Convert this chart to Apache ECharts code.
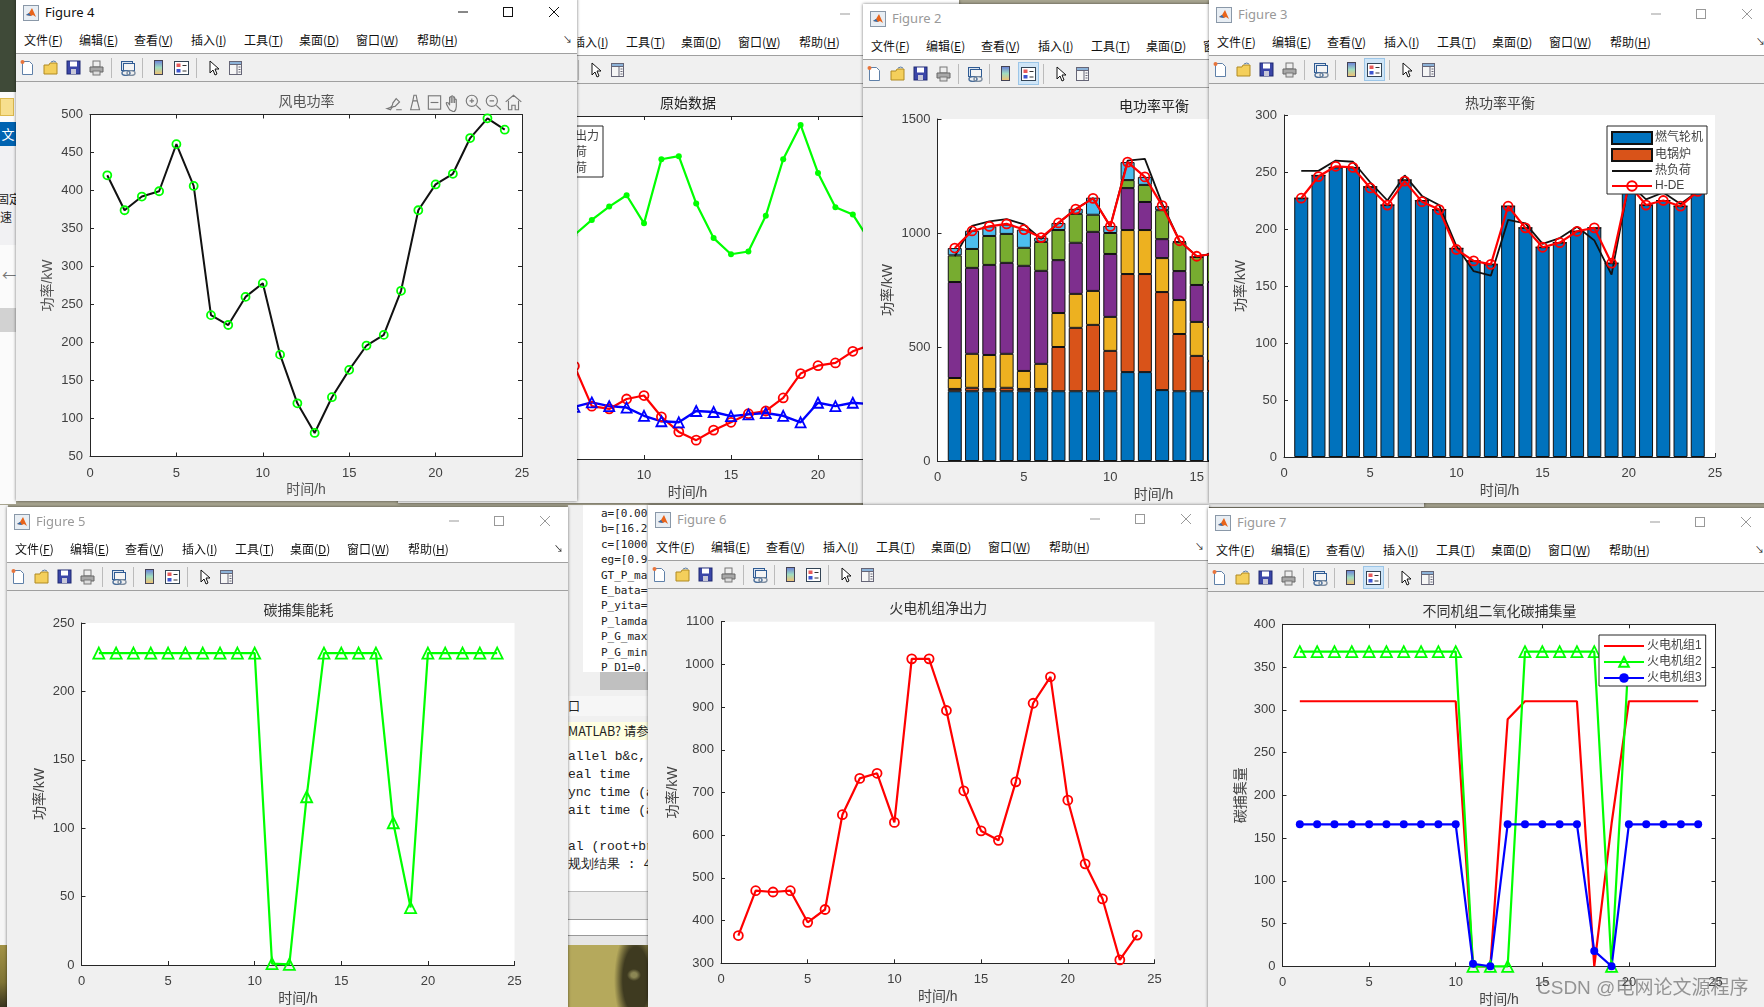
<!DOCTYPE html>
<html>
<head>
<meta charset="utf-8">
<title>Figures</title>
<script src="https://cdn.jsdelivr.net/npm/echarts@6/dist/echarts.min.js"></script>
<style>
html, body { margin: 0; padding: 0; }
body { width: 1764px; height: 1007px; overflow: hidden; position: relative; background: #a8a590; font-family: "Noto Sans CJK SC", sans-serif; }
.abs { position: absolute; }
.win { position: absolute; width: 561px; height: 503px; background: #f0f0f0; overflow: hidden; box-shadow: 0 0 3px rgba(0,0,0,.55); }
.head { position: absolute; left: 0; top: 0; width: 100%; height: 56px; background: #fff; border-bottom: 1px solid #a0a0a0; box-sizing: border-box; }
.tools { position: absolute; left: 0; top: 56px; width: 100%; height: 28px; background: #f0f0f0; border-bottom: 1px solid #a0a0a0; box-sizing: border-box; }
.cap { position: absolute; left: 29px; top: 5px; font: 13px "Noto Sans", sans-serif; color: #999; }
.win.on .cap { color: #111; }
.menu { position: absolute; top: 33px; font-size: 12px; line-height: 18px; color: #111; white-space: nowrap; }
.menu u { text-underline-offset: 1px; }
.btn { position: absolute; top: 5px; width: 18px; height: 18px; }
.sep { position: absolute; top: 4px; width: 1px; height: 20px; background: #bbb; }
.ic { position: absolute; top: 3px; width: 18px; height: 20px; }
.hot { position: absolute; top: 2px; width: 21px; height: 23px; background: #cfe5f7; border: 1px solid #9cc6e8; box-sizing: border-box; }
.chart { position: absolute; left: 0; top: 84px; width: 561px; height: 419px; }
.ed { font: 11px/15.4px "DejaVu Sans Mono", monospace; color: #222; white-space: pre; }
.cmd { font: 13px/18px "Liberation Mono", monospace; color: #222; white-space: pre; }
</style>
</head>
<body>
<div class="abs" style="left:0;top:0;width:16px;height:92px;background:#3f4a38"></div>
<div class="abs" style="left:0;top:92px;width:16px;height:412px;background:#fbfbfb"></div>
<div class="abs" style="left:0;top:98px;width:12px;height:16px;background:#f7df8e;border:1px solid #dcb94e"></div>
<div class="abs" style="left:0;top:122px;width:16px;height:24px;background:#0063b1;color:#fff;font-size:13px;line-height:24px;text-align:center">文</div>
<div class="abs" style="left:0;top:146px;width:16px;height:99px;background:#f1f1f3"></div>
<div class="abs" style="left:-3px;top:190px;font-size:12px;line-height:18px;color:#222;width:19px;overflow:hidden;white-space:nowrap">固定<br><span style="margin-left:3px">速</span></div>
<div class="abs" style="left:2px;top:264px;font-size:14px;color:#777">←</div>
<div class="abs" style="left:0;top:308px;width:16px;height:24px;background:#d2d2d2"></div>
<div class="abs" style="left:0;top:505px;width:8px;height:440px;background:#f6f6f6"></div>
<div class="abs" style="left:0;top:945px;width:8px;height:62px;background:linear-gradient(#a39346,#7f7435 60%,#39351f)"></div>

<div class="abs" style="left:568px;top:505px;width:80px;height:440px;background:#f0f0f0"></div>
<div class="abs" style="left:583px;top:505px;width:65px;height:167px;background:#fff;overflow:hidden"><div id="editorText" class="ed" style="margin:1px 0 0 18px"></div></div>
<div class="abs" style="left:583px;top:672px;width:65px;height:18px;background:#f0f0f0"><div style="position:absolute;left:17px;top:0;width:48px;height:18px;background:#c0c0c0"></div></div>
<div class="abs" style="left:568px;top:696px;width:80px;height:20px;background:#f6f6f6;font-size:12px;line-height:20px;color:#222">口</div>
<div class="abs" style="left:568px;top:722px;width:80px;height:18px;background:#ffffe1;font-size:12.5px;line-height:18px;color:#222;overflow:hidden;white-space:nowrap">MATLAB? 请参</div>
<div class="abs" style="left:568px;top:740px;width:80px;height:151px;background:#fff;overflow:hidden"><div id="cmdText" class="cmd" style="margin-top:8px"></div></div>
<div class="abs" style="left:568px;top:891px;width:80px;height:28px;background:#eee;border-top:1px solid #bbb;box-sizing:border-box"></div>
<div class="abs" style="left:568px;top:919px;width:80px;height:16px;background:#fff;border-top:1px solid #999;box-sizing:border-box"></div>
<div class="abs" style="left:568px;top:935px;width:80px;height:10px;background:#e6e6e6;border-top:1px solid #999;box-sizing:border-box"></div>
<div class="abs" style="left:568px;top:945px;width:80px;height:62px;background:radial-gradient(ellipse 7px 6px at 66px 30px,#8b8654 40%,transparent 100%),radial-gradient(ellipse 22px 55px at 68px 35px,#3e3a20 60%,transparent 100%),#b5a95c"></div>

<div id="fig1" class="win" style="left:398px;top:0;z-index:1"></div>
<div id="fig2" class="win" style="left:863px;top:4px;z-index:2"></div>
<div id="fig3" class="win" style="left:1209px;top:0;z-index:3"></div>
<div id="fig4" class="win on" style="left:16px;top:-2px;z-index:4"></div>
<div id="fig5" class="win" style="left:7px;top:507px;z-index:5"></div>
<div id="fig6" class="win" style="left:648px;top:505px;z-index:5"></div>
<div id="fig7" class="win" style="left:1208px;top:508px;z-index:6"></div>
<div class="abs" style="left:1537px;top:973px;z-index:9;font-size:19px;line-height:30px;color:rgba(85,85,85,.6);white-space:nowrap;font-family:'Liberation Sans','Noto Sans CJK SC'">CSDN @电网论文源程序</div>

<script>
var hours = [1,2,3,4,5,6,7,8,9,10,11,12,13,14,15,16,17,18,19,20,21,22,23,24];
var xTicks = { min: 0, max: 25, interval: 5 };
var xCategories = ['0','1','2','3','4','5','6','7','8','9','10','11','12','13','14','15','16','17','18','19','20','21','22','23','24','25'];

// 原始数据 (前5小时被窗口挡住)
var rawGreen = [null,null,null,null,null,653,697,736,769,687,874,883,745,644,597,605,709,874,974,834,734,713,634,null];
var rawRed = [null,null,null,null,null,271,154,146,175,185,123,79,55,84,107,132,140,178,249,272,280,314,332,null];
var rawBlue = [null,null,null,null,null,152,165,154,150,126,110,107,140,137,125,130,134,126,107,164,154,164,160,null];

// 电功率平衡
var elecHours = [1,2,3,4,5,6,7,8,9,10,11,12,13,14,15,16];
var elecGT = [306,306,306,306,306,306,306,306,306,306,390,390,311,306,306,306];
var elecBoiler = [10,15,10,15,10,10,194,278,291,177,430,430,430,251,155,133];
var elecYellow = [48,149,149,149,79,110,149,149,149,149,193,193,149,149,149,149];
var elecPurple = [421,377,395,399,461,408,232,224,259,276,184,123,83,127,162,197];
var elecGreen = [117,83,127,127,79,127,132,127,75,92,35,75,127,127,123,118];
var elecSky = [32,80,42,41,80,18,31,22,75,31,79,35,18,4,0,9];
var elecLoad = [898,1031,1051,1061,1038,974,1044,1105,1152,1029,1317,1325,1129,966,898,910];
var elecDE = [934,1009,1029,1040,1015,980,1044,1105,1152,1029,1311,1246,1120,966,898,909];

// 热功率平衡
var heatGT = [227,247,254,254,237,221,243,225,217,183,172,169,220,201,184,188,198,201,170,239,221,225,220,233];
var heatBoiler = [0,0,0,0,0,0,0,0,0,0,0,0,0,0,0,0,0,0,0,0,0,0,0,0];
var heatLoad = [251,251,260,259,241,225,247,229,221,185,163,159,208,205,187,192,202,190,160,240,226,232,222,233];
var heatDE = [227,246,255,254,236,221,242,224,217,182,172,169,220,201,184,188,198,201,170,239,221,225,220,233];

var windPower = [420,374,392,399,461,406,236,223,260,278,184,120,81,128,164,196,210,268,374,408,422,469,495,480];
var captureEnergy = [228,228,228,228,228,228,228,228,228,228,1,0.5,123,228,228,228,228,104,42,228,228,228,228,228];
var thermalNet = [365,470,467,470,396,426,648,733,745,630,1013,1013,892,704,610,588,725,909,971,682,533,451,308,366];

// 不同机组二氧化碳捕集量
var unit1 = [310,310,310,310,310,310,310,310,310,310,0,0,289,310,310,310,310,0,167,310,310,310,310,310];
var unit2 = [368,368,368,368,368,368,368,368,368,368,0,0,0,368,368,368,368,368,0,368,368,368,368,368];
var unit3 = [166,166,166,166,166,166,166,166,166,166,3,0,166,166,166,166,166,18,0,166,166,166,166,166];

var menuItems = [['文件','F',8],['编辑','E',63],['查看','V',118],['插入','I',175],['工具','T',228],['桌面','D',283],['窗口','W',340],['帮助','H',401]];
var editorLines = ['a=[0.00','b=[16.2','c=[1000','eg=[0.9','GT_P_ma','E_bata=','P_yita=','P_lamda','P_G_max','P_G_min','P_D1=0.'];
var cmdLines = ['allel b&c,','eal time','ync time (a','ait time (a','','al (root+br'];

var BLACK = '#262626', RED = '#ff0000', GREEN = '#00ff00', BLUE = '#0000ff';
var FONT = '"Liberation Sans","Noto Sans CJK SC",sans-serif';

var ICONS = {
  logo: '<rect x=".5" y=".5" width="15" height="15" fill="#e8eef4" stroke="#8a98a8"/><path d="M3 10l3-2 3-5 4 9-3-2-2 1z" fill="#e8641b"/><path d="M3 10l3-2 2 3z" fill="#2a6fb5"/>',
  doc: '<path d="M3.5 2.5h7l3 3v10h-10z" fill="#fff" stroke="#5f80a8"/><circle cx="3.5" cy="3" r="2" fill="#e8743b"/>',
  open: '<path d="M2 6h5l1-2h7v11H2z" fill="#f4cf5b" stroke="#b08a22"/><path d="M9 3q3-2 5 0" fill="none" stroke="#5f80a8"/>',
  save: '<rect x="2" y="2" width="13" height="13" fill="#3b46a8" stroke="#1f2870"/><rect x="5" y="2.5" width="7" height="5" fill="#fff"/><rect x="6" y="10" width="5" height="5" fill="#c8c8d8"/>',
  print: '<rect x="5" y="2" width="7" height="6" fill="#eee" stroke="#777"/><path d="M2 8h13v5H2z" fill="#a8a8a8" stroke="#666"/><rect x="5" y="12" width="7" height="4" fill="#ddd" stroke="#777"/>',
  link: '<rect x="2.5" y="2.5" width="11" height="9" fill="#dbe4f0" stroke="#2f5b93"/><rect x="4.5" y="4.5" width="11" height="7" fill="#f4f4f4" stroke="#2f5b93"/><ellipse cx="7" cy="14" rx="4" ry="2.4" fill="none" stroke="#4a6e9a" stroke-width="1.4"/><ellipse cx="12" cy="14" rx="4" ry="2.4" fill="none" stroke="#7d8da0" stroke-width="1.4"/>',
  bar: '<defs><linearGradient id="cb" x1="0" y1="0" x2="0" y2="1"><stop offset="0" stop-color="#6a7fd8"/><stop offset=".5" stop-color="#9fdcc0"/><stop offset="1" stop-color="#f3c070"/></linearGradient></defs><rect x="4.5" y="1.5" width="8" height="14" fill="url(#cb)" stroke="#445"/>',
  legend: '<rect x="1.5" y="2.5" width="14" height="13" fill="#fff" stroke="#345"/><rect x="3.5" y="4.5" width="4" height="3.5" fill="#e85a5a"/><rect x="3.5" y="10" width="4" height="3.5" fill="#3d55d0"/><path d="M9.5 6.5h4M9.5 12h4" stroke="#333"/>',
  cursor: '<path d="M5 2v12l3-3 2 5 2-1-2-5h4z" fill="#fff" stroke="#111"/>',
  panel: '<rect x="2.5" y="2.5" width="12" height="13" fill="#f6f6f6" stroke="#667"/><rect x="2.5" y="2.5" width="12" height="3" fill="#8cb2d8" stroke="#667"/><path d="M10 5.5v10M11.5 8h2M11.5 10.5h2M11.5 13h2" stroke="#667"/>',
  brush: '<path d="M2 14q5-1 5-5l3-4 3 3-4 4q-3 0-4 3zM10 15h5" fill="none" stroke="#777"/>',
  pen: '<path d="M5 15l2-8h4l2 8zM7 7l1-5h2l1 5" fill="none" stroke="#777"/>',
  minus: '<rect x="3" y="2.5" width="11" height="12" fill="none" stroke="#777"/><path d="M5 8.5h7" stroke="#777"/>',
  hand: '<path d="M5 15q-3-5-3-6t2 0l1 2V4q1-1 1.500 0v5-6q1-1 1.500 0v6-5q1-1 1.500 0v5-3q1-1 1.500 0v6q0 3-2 5z" fill="none" stroke="#777"/>',
  zin: '<circle cx="7" cy="7" r="5" fill="none" stroke="#777"/><path d="M11 11l4 4M5 7h4M7 5v4" stroke="#777"/>',
  zout: '<circle cx="7" cy="7" r="5" fill="none" stroke="#777"/><path d="M11 11l4 4M5 7h4" stroke="#777"/>',
  home: '<path d="M1.500 8l7-6 7 6M4 7v8h3v-4h3v4h3V7" fill="none" stroke="#777"/>'
};
function svg(name, size) {
  size = size || 17;
  return '<svg width="' + size + '" height="' + size + '" viewBox="0 0 17 17">' + ICONS[name] + '</svg>';
}

var TOOLBAR = [['doc',3],['open',26],['save',49],['print',72],['link',103],['bar',134],['legend',157],['cursor',189],['panel',211]];

function buildWindow(id, number, highlight) {
  var el = document.getElementById(id);
  var html = '<div class="head"><div style="position:absolute;left:7px;top:5px">' + svg('logo') + '</div>';
  html += '<div class="cap">Figure ' + number + '</div>';
  var glyph = el.classList.contains('on') ? '#111' : '#999';
  html += '<svg class="btn" style="left:438px" viewBox="0 0 18 18"><path d="M4 9h10" stroke="' + glyph + '"/></svg>';
  html += '<svg class="btn" style="left:483px" viewBox="0 0 18 18"><rect x="4.500" y="4.500" width="9" height="9" fill="none" stroke="' + glyph + '"/></svg>';
  html += '<svg class="btn" style="left:529px" viewBox="0 0 18 18"><path d="M4 4l10 10M14 4L4 14" stroke="' + glyph + '"/></svg>';
  menuItems.forEach(function (m) {
    html += '<div class="menu" style="left:' + m[2] + 'px">' + m[0] + '(<u>' + m[1] + '</u>)</div>';
  });
  html += '<div class="menu" style="left:547px;font-size:9px">↘</div></div>';
  html += '<div class="tools">';
  if (highlight) html += '<div class="hot" style="left:155px"></div>';
  [95, 126, 180].forEach(function (x) { html += '<div class="sep" style="left:' + x + 'px"></div>'; });
  TOOLBAR.forEach(function (t) {
    html += '<div class="ic" style="left:' + t[1] + 'px">' + svg(t[0]) + '</div>';
  });
  html += '</div><div class="chart"></div>';
  el.innerHTML = html;
  return echarts.init(el.querySelector('.chart'));
}

function pairs(xs, ys, category) {
  return xs.map(function (x, i) { return [category ? String(x) : x, ys[i]]; });
}

function lineSeries(name, values, color, symbol, size, width, xs, category) {
  var hollow = symbol === 'circle' || symbol === 'triangle';
  return {
    type: 'line', name: name, data: pairs(xs || hours, values, category),
    symbol: symbol, symbolSize: size, showSymbol: symbol !== 'none', clip: false,
    lineStyle: { color: color, width: width },
    itemStyle: { color: hollow ? 'transparent' : color, borderColor: color, borderWidth: hollow ? 1.8 : 0 },
    z: 5
  };
}

function barSeries(name, values, color, xs) {
  return {
    type: 'bar', name: name, stack: 'total', data: pairs(xs, values, true), barWidth: 14,
    itemStyle: { color: color, borderColor: '#111', borderWidth: 1 }
  };
}

function plain(extra) {
  var a = { axisLine: { show: true, onZero: false, lineStyle: { color: BLACK, width: 1 } }, axisTick: { show: true, inside: true, length: 4, lineStyle: { color: BLACK } }, splitLine: { show: false } };
  for (var k in extra) a[k] = extra[k];
  return a;
}

function plainNumber(v) { return String(v); }

// p: plot box relative to the chart area
function drawFigure(chart, p, title, yLabel, yRange, series, legend) {
  var nameStyle = { color: p.textColor || '#444', fontSize: 14, fontFamily: FONT };
  var labelColor = '#404040';
  var xMain = p.category
    ? plain({ type: 'category', data: xCategories, boundaryGap: false,
        axisTick: { show: true, inside: true, length: 4, interval: 4, alignWithLabel: true, lineStyle: { color: BLACK } },
        axisLabel: { color: labelColor, fontSize: 13, fontFamily: FONT, margin: 10, interval: 4 } })
    : plain({ type: 'value', min: xTicks.min, max: xTicks.max, interval: xTicks.interval,
        axisLabel: { color: labelColor, fontSize: 13, fontFamily: FONT, margin: 10 } });
  xMain.name = '时间/h';
  xMain.nameLocation = 'middle';
  xMain.nameGap = 27;
  xMain.nameMoveOverlap = false;
  xMain.nameTextStyle = nameStyle;
  var xAxes = [xMain];
  var yAxes = [plain({ type: 'value', min: yRange.min, max: yRange.max, interval: yRange.interval,
    axisLabel: { color: labelColor, fontSize: 13, fontFamily: FONT, margin: 7, padding: [7, 0, 0, 0], formatter: plainNumber },
    name: yLabel, nameLocation: 'middle', nameGap: p.nameGap, nameMoveOverlap: false, nameTextStyle: nameStyle })];
  if (p.box) {
    xAxes.push(plain({ type: 'value', position: 'top', min: xTicks.min, max: xTicks.max, interval: xTicks.interval, axisLabel: { show: false } }));
    yAxes.push(plain({ type: 'value', position: 'right', min: yRange.min, max: yRange.max, interval: yRange.interval, axisLabel: { show: false } }));
  }
  chart.setOption({
    animation: false,
    title: { text: title, left: p.left + p.width / 2 - 4.5, textAlign: 'center', top: p.titleTop,
      textStyle: { color: p.titleColor || '#333', fontSize: 14, fontWeight: 'normal', fontFamily: FONT } },
    grid: { show: true, outerBoundsMode: 'none', left: p.left, top: p.top, width: p.width, height: p.height, backgroundColor: '#fff', borderWidth: 0 },
    xAxis: xAxes, yAxis: yAxes,
    legend: legend || { show: false },
    series: series
  });
}

function legendBox(names, pos) {
  return {
    show: true, orient: 'vertical', left: pos.left, right: pos.right, top: pos.top, data: names, z: 20,
    itemWidth: 40, itemHeight: 12, itemGap: pos.gap || 4, padding: [5, 4, 2, 4],
    backgroundColor: '#fff', borderColor: BLACK, borderWidth: 1,
    textStyle: { color: '#444', fontSize: 12, fontFamily: FONT, padding: [0, 0, 0, -2] }
  };
}

// line-only legend entry: no symbol on the key
function lineOnly(name) {
  return { name: name, itemStyle: { color: 'transparent', borderColor: 'transparent', borderWidth: 0 } };
}

document.getElementById('editorText').textContent = editorLines.join('\n');
document.getElementById('cmdText').textContent = cmdLines.join('\n') + '\n规划结果 : 4';

var chart1 = buildWindow('fig1', 1, false);
drawFigure(chart1, { left: 72, top: 32, width: 435, height: 343, box: true, nameGap: 35, titleTop: 8, titleColor: '#222' },
  '原始数据', '功率/kW', { min: 0, max: 1000, interval: 200 }, [
    lineSeries('电负荷', rawGreen, GREEN, 'circle', 6, 2.2),
    lineSeries('风电出力', rawRed, RED, 'circle', 9, 2.2),
    lineSeries('热负荷', rawBlue, BLUE, 'triangle', 10, 2.4)
  ], legendBox(['风电出力', '电负荷', '热负荷'], { right: 356, top: 42 }));
chart1.setOption({ series: [{ itemStyle: { color: GREEN, borderWidth: 0 } }] });

var chart2 = buildWindow('fig2', 2, true);
drawFigure(chart2, { category: true, left: 74.500, top: 31, width: 432, height: 342, nameGap: 42.500, titleTop: 7, titleColor: '#222' },
  '电功率平衡', '功率/kW', { min: 0, max: 1500, interval: 500 }, [
    barSeries('燃气轮机', elecGT, '#0072BD', elecHours),
    barSeries('电锅炉', elecBoiler, '#D95319', elecHours),
    barSeries('储能', elecYellow, '#EDB120', elecHours),
    barSeries('火电机组', elecPurple, '#7E2F8E', elecHours),
    barSeries('风电', elecGreen, '#77AC30', elecHours),
    barSeries('购电', elecSky, '#4DBEEE', elecHours),
    lineSeries('电负荷', elecLoad, '#111', 'none', 0, 1.8, elecHours, true),
    lineSeries('E-DE', elecDE, RED, 'circle', 9, 2.2, elecHours, true)
  ]);

var chart3 = buildWindow('fig3', 3, true);
var heatLegend = legendBox([{ name: '燃气轮机', icon: 'rect' }, { name: '电锅炉', icon: 'rect' }, lineOnly('热负荷'), 'H-DE'], { left: 398, top: 42, gap: 3 });
drawFigure(chart3, { category: true, left: 75, top: 31, width: 431, height: 342, nameGap: 36, titleTop: 8, titleColor: '#444' },
  '热功率平衡', '功率/kW', { min: 0, max: 300, interval: 50 }, [
    barSeries('燃气轮机', heatGT, '#0072BD', hours),
    barSeries('电锅炉', heatBoiler, '#D95319', hours),
    lineSeries('热负荷', heatLoad, '#111', 'none', 0, 1.8, hours, true),
    lineSeries('H-DE', heatDE, RED, 'circle', 9, 2.2, hours, true)
  ], heatLegend);

var chart4 = buildWindow('fig4', 4, false);
drawFigure(chart4, { left: 74, top: 32.500, width: 432, height: 342, box: true, nameGap: 34.500, titleTop: 8, titleColor: '#555', textColor: '#555' },
  '风电功率', '功率/kW', { min: 50, max: 500, interval: 50 }, [
    lineSeries('风电功率', windPower, '#111', 'circle', 8, 2)
  ]);
chart4.setOption({ series: [{ itemStyle: { borderColor: GREEN } }] });
var plotTools = document.createElement('div');
['brush', 'pen', 'minus', 'hand', 'zin', 'zout', 'home'].forEach(function (n, i) {
  var d = document.createElement('div');
  d.className = 'abs';
  d.style.cssText = 'left:' + (369 + i * 19.8) + 'px;top:95px;z-index:3';
  d.innerHTML = svg(n, 19);
  plotTools.appendChild(d);
});
document.getElementById('fig4').appendChild(plotTools);

var chart5 = buildWindow('fig5', 5, false);
drawFigure(chart5, { left: 74.500, top: 32, width: 433, height: 342, nameGap: 34, titleTop: 8, titleColor: '#333' },
  '碳捕集能耗', '功率/kW', { min: 0, max: 250, interval: 50 }, [
    lineSeries('碳捕集能耗', captureEnergy, GREEN, 'triangle', 11, 2.2)
  ]);

var chart6 = buildWindow('fig6', 6, false);
drawFigure(chart6, { left: 73, top: 32.700, width: 433.500, height: 341.600, nameGap: 41, titleTop: 8, titleColor: '#333' },
  '火电机组净出力', '功率/kW', { min: 300, max: 1100, interval: 100 }, [
    lineSeries('火电机组净出力', thermalNet, RED, 'circle', 9, 2.2)
  ]);

var chart7 = buildWindow('fig7', 7, true);
drawFigure(chart7, { left: 74.500, top: 32.300, width: 433, height: 342, box: true, nameGap: 34.500, titleTop: 8, titleColor: '#333' },
  '不同机组二氧化碳捕集量', '碳捕集量', { min: 0, max: 400, interval: 50 }, [
    lineSeries('火电机组1', unit1, RED, 'none', 0, 2.2),
    lineSeries('火电机组2', unit2, GREEN, 'triangle', 11, 2.2),
    lineSeries('火电机组3', unit3, BLUE, 'circle', 8, 2.2)
  ], legendBox([lineOnly('火电机组1'), '火电机组2', '火电机组3'], { left: 391, top: 43 }));
chart7.setOption({ series: [{}, {}, { itemStyle: { color: BLUE, borderWidth: 0 } }] });
</script>
</body>
</html>
